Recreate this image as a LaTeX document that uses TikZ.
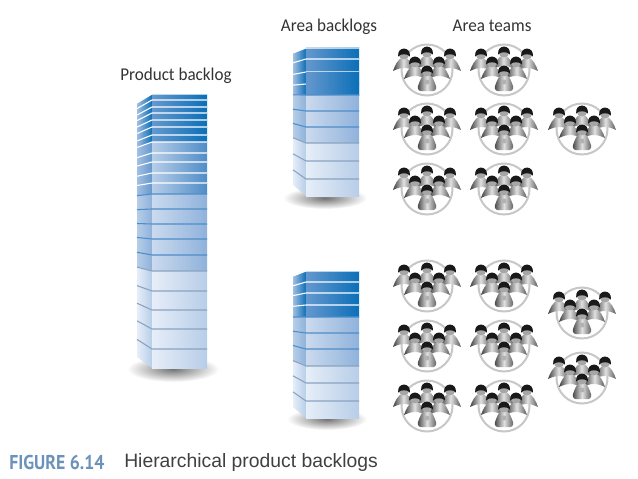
\documentclass[tikz,border=0pt]{standalone}
\usepackage{fontspec}
\usepackage{xcolor}
\newfontfamily\handfont{Carlito}[FakeStretch=0.95]
\newfontfamily\capfont{PT Sans}[FakeStretch=0.89]
\setsansfont{Liberation Sans}
\tikzset{
    side dark/.style = {left color=blue5!85!white, right color=blue1},
    front dark/.style = {left color=blue4, right color=blue1},
    seam dark/.style = {draw=white},
    side mid/.style = {left color=blue6, right color=blue4},
    front mid/.style = {left color=blue7, right color=blue3},
    seam mid/.style = {draw=white},
    side soft/.style = {left color=blue7, right color=blue5},
    front soft/.style = {left color=blue8, right color=blue5},
    seam soft/.style = {draw=blue3},
    side pale/.style = {left color=blue9, right color=blue7},
    front pale/.style = {left color=blue9, right color=blue7},
    seam pale/.style = {draw=blue5!70!gray},
    floor shadow/.style = {inner color=black!55, outer color=white},
    label hand/.style = {font=\handfont\fontsize{13.5}{15}\selectfont, text=black!80},
    ring/.style = {draw=black!22, line width=1.5, fill=white},
    skin/.style = {left color=black!75, right color=black!65, middle color=black!12},
    member/.pic = {
        \path[skin] (-1,3) .. controls (-6,5) and (-9,11) .. (-11,17)
            .. controls (-7,15) and (-3,14) .. (0,14)
            .. controls (4,14) and (7,15) .. (10,17)
            .. controls (8,10) and (5,5) .. (1,3) -- cycle;
        \fill[black!35] (0,0) circle (5.4);
        \fill[black!90] (-5.8,2.5) .. controls (-7.5,-8) and (7.5,-8) .. (5.8,2.5)
            .. controls (4,-0.5) and (-4,-0.5) .. cycle;
    },
    leader/.pic = {
        \path[skin] (-1,3) .. controls (-6,5) and (-7,10) .. (-9,15)
            .. controls (-10,19) and (-7,21) .. (-4,20) -- (4,20)
            .. controls (7,21) and (10,19) .. (9,15)
            .. controls (7,10) and (6,5) .. (1,3) -- cycle;
        \fill[black!30] (0,11) circle (2.5);
        \fill[black!35] (0,0) circle (5.4);
        \fill[black!90] (-5.8,2.5) .. controls (-7.5,-8) and (7.5,-8) .. (5.8,2.5)
            .. controls (4,-0.5) and (-4,-0.5) .. cycle;
    },
    team/.pic = {
        \draw[ring] (0,0) circle (25.5);
        \pic at (-23,-16) {member};
        \pic[xscale=-1] at (23,-16) {member};
        \pic at (0,-18) {member};
        \pic at (-12,-8) {member};
        \pic[xscale=-1] at (12,-8) {member};
        \pic at (0,1) {leader};
    },
}
\definecolor{blue1}{HTML}{0B6FB8}
\definecolor{blue3}{HTML}{4F8DC8}
\definecolor{blue4}{HTML}{6498CE}
\definecolor{blue5}{HTML}{8FB2DB}
\definecolor{blue6}{HTML}{A3BFE1}
\definecolor{blue7}{HTML}{B7CDE8}
\definecolor{blue8}{HTML}{CBDAEE}
\definecolor{blue9}{HTML}{E6EEF8}
% geometry of the current stack: left, corner, right, top, rise, bottom, rise
\newcommand{\setstack}[7]{%
    \def\xside{#1}\def\xfront{#2}\def\xback{#3}%
    \def\ytop{#4}\def\risetop{#5}\def\ybot{#6}\def\risebot{#7}}
\newcommand{\band}[2]{%
    \foreach \ya/\yb in {#1} {
        \pgfmathsetmacro\la{\ya+\risetop+(\risebot-\risetop)*(\ya-\ytop)/(\ybot-\ytop)}
        \pgfmathsetmacro\lb{\yb+\risetop+(\risebot-\risetop)*(\yb-\ytop)/(\ybot-\ytop)}
        \shade[side #2] (\xside,\la) -- (\xfront,\ya) -- (\xfront,\yb) -- (\xside,\lb) -- cycle;
        \shade[front #2] (\xfront,\ya) rectangle (\xback,\yb);
        \draw[seam #2, line width=0.8] (\xside,\la) -- (\xfront,\ya) -- (\xback,\ya);
    }}

\begin{document}
\begin{tikzpicture}[x=0.75pt, y=-0.75pt]
    \useasboundingbox (0,0) rectangle (638,478);

    \node[label hand] (product) at (176,76) {Product backlog};
    \node[label hand] (area) at (329,27) {Area backlogs};
    \node[label hand] (teams) at (492,26) {Area teams};

    % shadows below the stacks
    \shade[floor shadow] (173,369) ellipse (46 and 13);
    \shade[floor shadow] (325,198) ellipse (42 and 11);
    \shade[floor shadow] (327,419) ellipse (40 and 11);

    % product backlog
    \setstack{137}{152}{207}{94}{9}{368}{-11}
    \band{94/100,100/107,107/113,113/120,120/127,127/135,135/142}{dark}
    \band{142/153,153/162,162/173,173/183,183/194}{mid}
    \band{194/209,209/224,224/239,239/255,255/271}{soft}
    \band{271/291,291/310,310/329,329/349,349/368}{pale}

    % area backlogs, upper
    \setstack{293}{306}{359}{48}{5}{196}{-11}
    \band{48/59,59/72,72/84,84/95}{dark}
    \shade[front dark] (306,72.5) rectangle (359,95);
    \band{95/111,111/127,127/143}{soft}
    \band{143/161,161/179,179/196}{pale}

    % area backlogs, lower
    \setstack{293}{306}{359}{271}{5}{418}{-11}
    \band{271/282,282/293,293/305,305/317}{dark}
    \band{317/333,333/349,349/366}{soft}
    \band{366/383,383/401,401/418}{pale}

    % area teams
    \foreach \cx/\cy [count=\i] in {427/70,504/70,427/129,504/129,582/129,427/189,504/189,
            427/286,504/286,427/346,504/346,427/406,504/406,582/313,582/378}
        \pic (team\i) at (\cx,\cy) {team};

    \node[anchor=west, inner sep=0pt, text=blue4!75!gray, font=\capfont\bfseries\fontsize{15}{15}\selectfont] (fignum) at (9,462) {FIGURE 6.14};
    \node[anchor=west, inner sep=0pt, text=black!75, font=\sffamily\fontsize{14.5}{15}\selectfont] (caption) at (124,462) {Hierarchical product backlogs};
\end{tikzpicture}
\end{document}
